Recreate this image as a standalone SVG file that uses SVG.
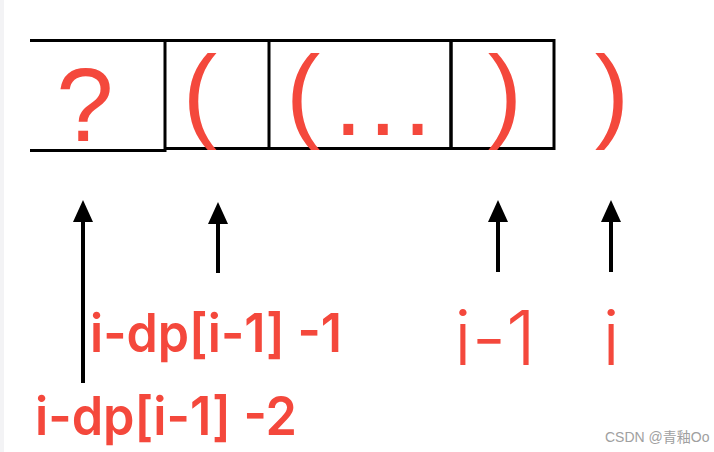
<svg xmlns="http://www.w3.org/2000/svg" width="714" height="452" viewBox="0 0 714 452">
<style>
.box{fill:none;stroke:#000;stroke-width:3}
.big{font-family:"Liberation Sans",Arial,sans-serif;font-size:103px;fill:#f4483c}
.lbl{font-family:Inter,"Liberation Sans",sans-serif;font-weight:600;font-size:53px;fill:#f4483c}
.idx{font-family:Inter,"Liberation Sans",sans-serif;font-weight:300;font-size:76px;fill:#f4483c}
.arr{stroke:#000;stroke-width:4;fill:none;marker-end:url(#ah)}
.wm{font-family:"Liberation Sans","Noto Sans CJK SC",sans-serif;font-size:14px;fill:#a0a0a0}
</style>
<defs>
<marker id="ah" markerUnits="userSpaceOnUse" markerWidth="22" markerHeight="20" refX="0" refY="10" orient="auto" viewBox="0 0 22 20">
<path d="M0,0 L22,10 L0,20 z" fill="#000"/>
</marker>
</defs>
<rect x="0" y="0" width="714" height="452" fill="#fff"/>
<rect x="0" y="0" width="4" height="452" fill="#f3f3f5"/>
<g id="cell-q">
<path class="box" d="M30,40.5 H165 V150.5 H30"/>
<text class="big" x="85" y="141" text-anchor="middle">?</text>
</g>
<g id="cell-open">
<path class="box" d="M165,40.5 H269 V148.5 H165"/>
<text class="big" x="200" y="128" text-anchor="middle">(</text>
</g>
<g id="cell-mid">
<path class="box" d="M269,40.5 H451 V148.5 H269"/>
<text class="big"><tspan x="286" y="128">(</tspan><tspan x="334" y="135" letter-spacing="6">...</tspan></text>
</g>
<g id="cell-close">
<rect class="box" x="451" y="40.5" width="103" height="108"/>
<text class="big" x="505" y="128" text-anchor="middle">)</text>
</g>
<g id="outside-close">
<text class="big" x="612" y="128" text-anchor="middle">)</text>
</g>
<g id="connectors">
<path class="arr" d="M83,383 V222"/>
<path class="arr" d="M218,273 V224"/>
<path class="arr" d="M498,272 V222"/>
<path class="arr" d="M611,272 V222"/>
</g>
<g id="label-1">
<text class="lbl" x="90" y="352" textLength="252" lengthAdjust="spacingAndGlyphs">i-dp[i-1] -1</text>
</g>
<g id="label-2">
<text class="lbl" x="35" y="435" textLength="262" lengthAdjust="spacingAndGlyphs">i-dp[i-1] -2</text>
</g>
<g id="label-i1">
<text class="idx" x="454" y="365" textLength="82" lengthAdjust="spacing">i-1</text>
</g>
<g id="label-i">
<text class="idx" x="611" y="365" text-anchor="middle">i</text>
</g>
<text class="wm" x="605" y="442">CSDN @青釉Oo</text>
</svg>
